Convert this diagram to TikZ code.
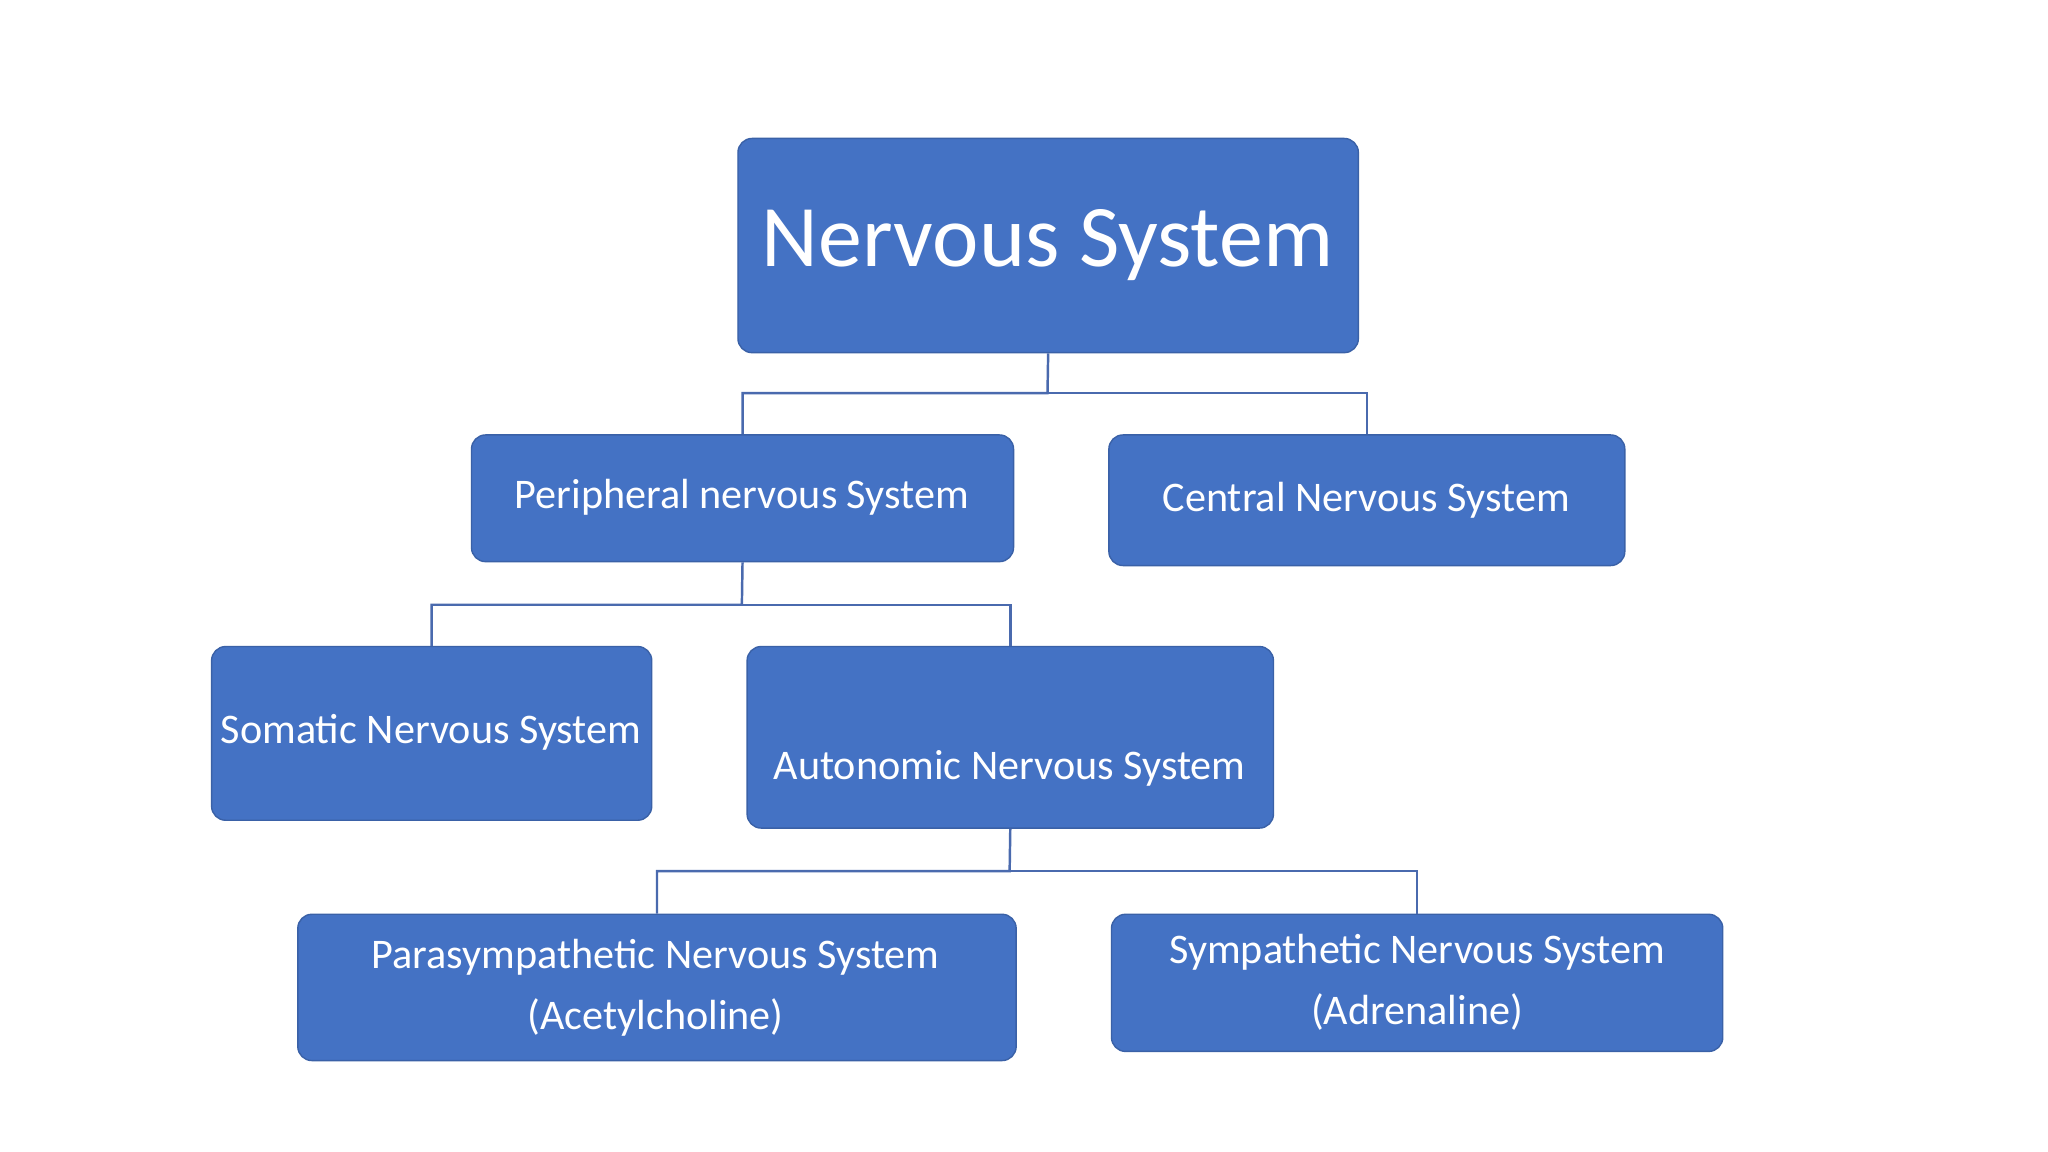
\documentclass[tikz,border=0pt]{standalone}
\usepackage{fontspec}
\setmainfont{Carlito}
\definecolor{bx}{HTML}{4472C4}
\definecolor{ln}{HTML}{4A6AAE}
\begin{document}
\begin{tikzpicture}[x=0.01306cm,y=-0.01306cm,
  box/.style={fill=bx,draw=bx!85!black,line width=0.4pt,rounded corners=4pt,inner sep=0pt},
  txt/.style={text=white,font=\fontsize{12}{17.4}\selectfont,align=center,inner sep=0pt},
  con/.style={draw=ln,line width=0.7pt}]
\useasboundingbox (0,0) rectangle (1568,882);
\newcommand{\bx}[5]{\node[box,minimum width={(#4-#2)*0.01306cm},minimum height={(#5-#3)*0.01306cm}] (#1) at ({(#2+#4)/2},{(#3+#5)/2}) {};}
\bx{ns}{565}{106}{1040}{270}
\bx{pns}{361}{333}{776}{430}
\bx{cns}{849}{333}{1244}{433}
\bx{sns}{162}{495}{499}{628}
\bx{ans}{572}{495}{975}{634}
\bx{para}{228}{700}{778}{812}
\bx{symp}{851}{700}{1319}{805}
\node[txt,font=\fontsize{25}{30}\selectfont] (tns) at (802,188) {Nervous System};
\node[txt] (tpns) at (568,381) {Peripheral nervous System};
\node[txt] (tcns) at (1046,383) {Central Nervous System};
\node[txt] (tsns) at (330,561) {Somatic Nervous System};
\node[txt] (tans) at (773,588) {Autonomic Nervous System};
\node[txt] (tpara) at (502,756) {Parasympathetic Nervous System\\(Acetylcholine)};
\node[txt] (tsymp) at (1085,752) {Sympathetic Nervous System\\(Adrenaline)};
\draw[con] (ns.south) -- (802,301) -| (pns.north);
\draw[con] (802,301) -| (cns.north);
\draw[con] (pns.south) -- (568,463) -| (sns.north);
\draw[con] (568,463) -| (ans.north);
\draw[con] (ans.south) -- (773,667) -| (para.north);
\draw[con] (773,667) -| (symp.north);
\end{tikzpicture}
\end{document}
